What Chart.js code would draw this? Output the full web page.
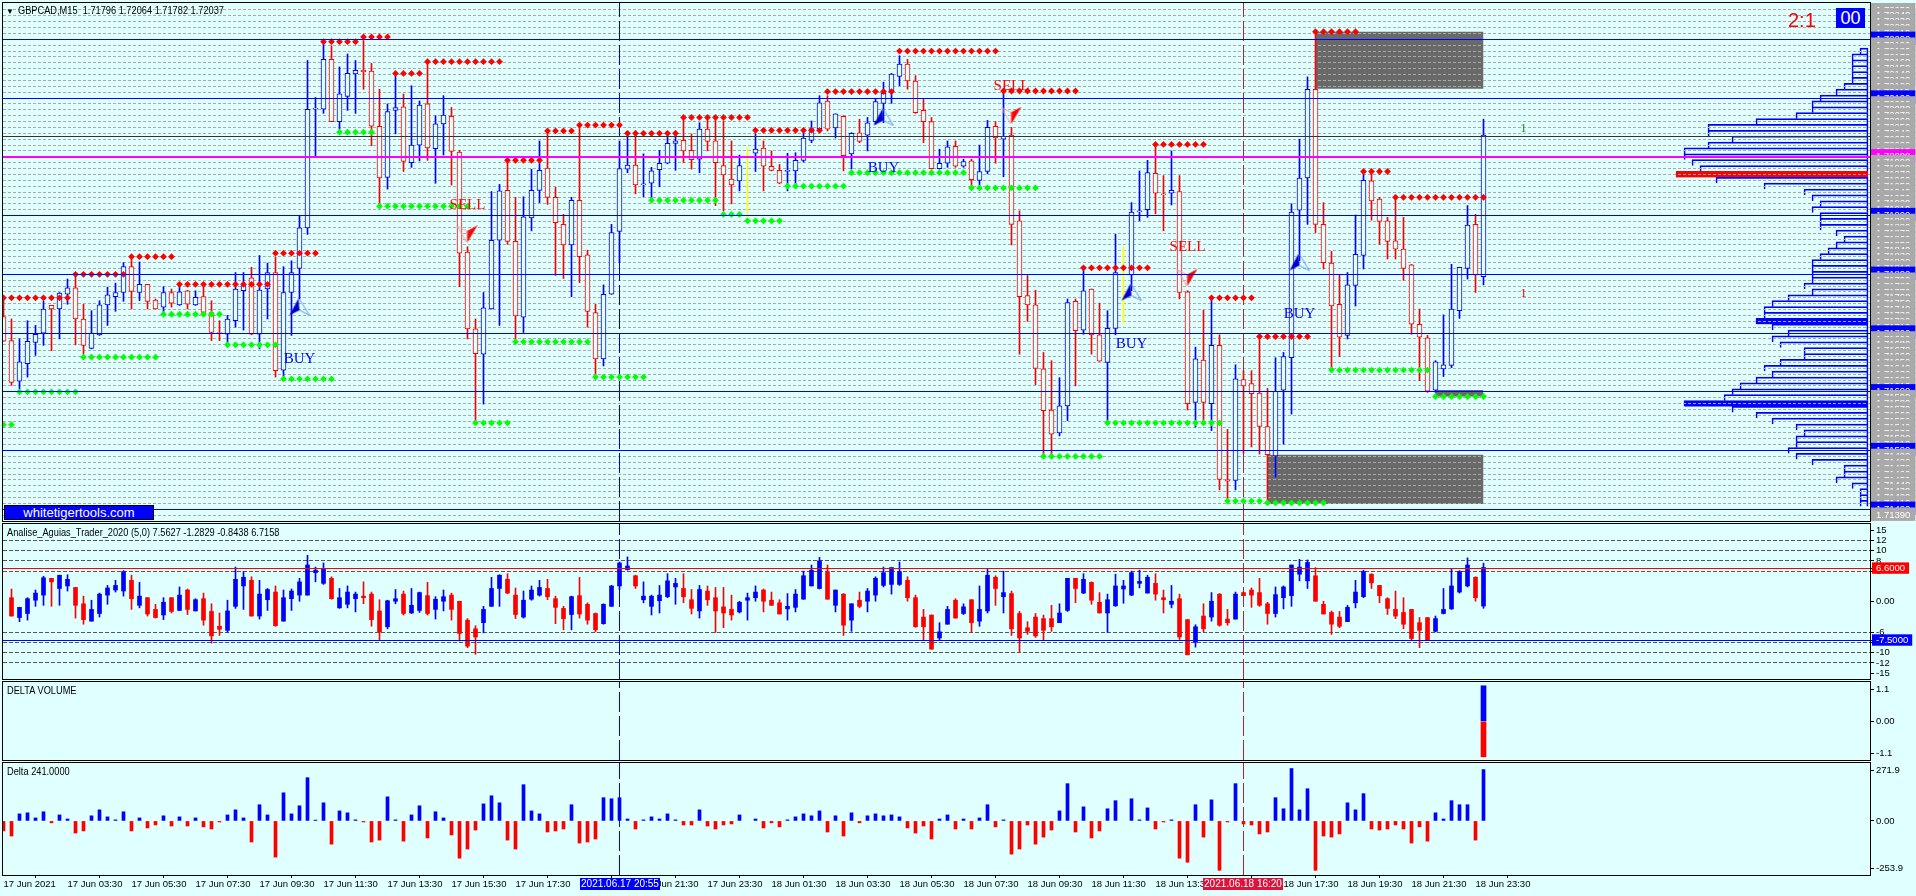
<!DOCTYPE html>
<html>
<head>
<meta charset="utf-8">
<title>GBPCAD,M15</title>
<script src="https://cdn.jsdelivr.net/npm/chart.js@4"></script>
<style>
html, body { margin: 0; padding: 0; background: #E0FFFF; overflow: hidden; }
body { width: 1916px; height: 896px; position: relative; font: 11px "Liberation Sans", sans-serif; }
canvas { position: absolute; left: 3px; }
.pane { position: absolute; left: 2px; width: 1869px; border: 1px solid #000; box-sizing: border-box; pointer-events: none; }
.txt { position: absolute; white-space: nowrap; color: #000; line-height: 13px; }
.squeezed { transform: scaleX(0.84); transform-origin: left center; }
.tag { position: absolute; top: 878px; height: 12px; width: 80px; text-align: center; color: #fff; font-size: 10px; line-height: 12px; white-space: nowrap; }
</style>
</head>
<body>
<canvas id="under" width="1913" height="518" style="top:3px"></canvas>
<canvas id="main" width="1913" height="518" style="top:3px"></canvas>
<canvas id="osc" width="1913" height="155" style="top:524px"></canvas>
<canvas id="dvol" width="1913" height="78" style="top:682px"></canvas>
<canvas id="delta" width="1913" height="133" style="top:763px"></canvas>

<div class="pane" style="top:2px;height:520px"></div>
<div class="pane" style="top:523px;height:157px"></div>
<div class="pane" style="top:681px;height:80px"></div>
<div class="pane" style="top:762px;height:114px"></div>

<div class="txt" style="left:6px;top:5px;font-size:8px">&#9660;</div>
<div class="txt squeezed" style="left:18px;top:4px">GBPCAD,M15&nbsp; 1.71796 1.72064 1.71782 1.72037</div>
<div class="txt squeezed" style="left:7px;top:526px">Analise_Aguias_Trader_2020 (5,0) 7.5627 -1.2829 -0.8438 6.7158</div>
<div class="txt squeezed" style="left:7px;top:684px">DELTA VOLUME</div>
<div class="txt squeezed" style="left:7px;top:765px">Delta 241.0000</div>
<div class="txt" style="left:4px;top:505px;width:148px;height:13px;background:#0000ff;border:1px solid #000;color:#fff;font:13px 'Liberation Sans',sans-serif;text-align:center;line-height:14px">whitetigertools.com</div>
<div class="txt" style="left:1788px;top:8px;color:#ff0000;font:20px/24px 'Liberation Sans',sans-serif">2:1</div>
<div class="txt" style="left:1836px;top:8px;width:29px;height:20px;background:#0000ff;color:#fff;font:18px/20px 'Liberation Sans',sans-serif;text-align:center">00</div>
<div class="tag" style="left:580px;background:#0000ff">2021.06.17 20:55</div>
<div class="tag" style="left:1203px;background:#DC143C">2021.06.18 16:20</div>

<script>
// GBPCAD M15, values
const opens = [1.71728,1.71687,1.71618,1.71648,1.71684,1.71700,1.71747,1.71741,1.71766,1.71777,
1.71724,1.71674,1.71697,1.71748,1.71762,1.71769,1.71813,1.71769,1.71783,1.71756,
1.71744,1.71769,1.71748,1.71772,1.71748,1.71762,1.71735,1.71701,1.71698,1.71721,
1.71772,1.71794,1.71698,1.71775,1.71803,1.71637,1.71769,1.71810,1.71879,1.72081,
1.72081,1.72166,1.72060,1.72103,1.72141,1.72147,1.72146,1.72052,1.71965,1.72079,
1.72085,1.71990,1.72020,1.72090,1.72014,1.72056,1.72069,1.72008,1.71838,1.71707,
1.71664,1.71741,1.71858,1.71943,1.71856,1.71727,1.71896,1.71943,1.71981,1.71931,
1.71885,1.71850,1.71926,1.71833,1.71735,1.71656,1.71766,1.71873,1.71979,1.71986,
1.71952,1.71955,1.71978,1.71989,1.72023,1.72028,1.72011,1.71996,1.72047,1.72027,
1.71985,1.71962,1.71959,null,1.72006,1.72015,1.71984,1.71977,1.71975,1.71976,
1.71994,1.72028,1.72048,1.72095,1.72049,1.72069,1.72005,1.72041,1.72037,1.72060,
1.72091,1.72112,1.72137,1.72158,1.72129,1.72079,1.72060,1.71980,1.71989,1.72018,
1.71984,1.71993,1.71960,1.71975,1.72052,1.72030,1.72037,1.71891,1.71764,1.71748,
1.71639,1.71569,1.71530,1.71576,1.71754,1.71705,1.71775,1.71697,1.71650,1.71708,
null,1.71799,1.71906,1.71910,1.71972,1.71937,1.71938,1.71941,1.71770,1.71582,
1.71654,1.71580,1.71679,1.71450,1.71449,1.71621,1.71614,1.71598,1.71541,1.71491,
1.71603,1.71658,1.71909,1.71964,1.72115,1.71885,1.71819,1.71749,1.71696,1.71781,
1.71832,1.71959,1.71928,1.71891,1.71857,1.71843,1.71816,1.71715,1.71692,1.71603,
1.71639,1.71645,1.71738,1.71810,1.71885,1.71796];
const closes = [1.71686,1.71616,1.71651,1.71686,1.71698,1.71741,1.71741,1.71768,1.71777,1.71724,
1.71679,1.71700,1.71748,1.71765,1.71769,1.71813,1.71771,1.71783,1.71754,1.71741,
1.71769,1.71751,1.71770,1.71749,1.71761,1.71735,1.71701,1.71699,1.71724,1.71775,
1.71781,1.71698,1.71773,1.71803,1.71636,1.71769,1.71803,1.71879,1.72081,1.72083,
1.72166,1.72060,1.72107,1.72142,1.72147,1.72145,1.72052,1.71964,1.72077,1.72084,
1.71992,1.72020,1.72088,1.72015,1.72056,1.72071,1.72009,1.71836,1.71707,1.71665,
1.71743,1.71858,1.71942,1.71856,1.71729,1.71898,1.71943,1.71977,1.71931,1.71888,
1.71850,1.71926,1.71830,1.71737,1.71656,1.71766,1.71871,1.71980,1.71986,1.71952,
1.71954,1.71976,1.71989,1.72023,1.72027,1.72010,1.71995,1.72047,1.72026,1.71990,
1.71969,1.71952,1.71985,null,1.72013,1.71984,1.71977,1.71955,1.71977,1.71994,
1.72032,1.72048,1.72092,1.72047,1.72073,1.72002,1.72040,1.72026,1.72058,1.72094,
1.72108,1.72141,1.72158,1.72129,1.72075,1.72060,1.71980,1.71989,1.72017,1.71984,
1.71992,1.71961,1.71975,1.72050,1.72032,1.72035,1.71885,1.71762,1.71748,1.71640,
1.71568,1.71528,1.71576,1.71752,1.71704,1.71772,1.71697,1.71652,1.71708,1.71803,
null,1.71906,1.71908,1.71973,1.71938,1.71935,1.71943,1.71769,1.71580,1.71656,
1.71582,1.71679,1.71451,1.71448,1.71622,1.71610,1.71597,1.71541,1.71493,1.71601,
1.71660,1.71906,1.71964,1.72115,1.71885,1.71820,1.71746,1.71693,1.71782,1.71834,
1.71960,1.71925,1.71890,1.71856,1.71843,1.71810,1.71715,1.71693,1.71601,1.71651,
1.71646,1.71741,1.71812,1.71884,1.71799,1.72037];
const highs = [1.71761,1.71724,1.71690,1.71721,1.71713,1.71754,1.71747,1.71769,1.71792,1.71798,
1.71749,1.71738,1.71755,1.71778,1.71785,1.71820,1.71826,1.71821,1.71783,1.71758,
1.71779,1.71775,1.71783,1.71773,1.71772,1.71783,1.71755,1.71721,1.71730,1.71803,
1.71803,1.71812,1.71832,1.71819,1.71829,1.71813,1.71823,1.71900,1.72164,1.72101,
1.72195,1.72189,1.72153,1.72175,1.72164,1.72198,1.72159,1.72115,1.72090,1.72138,
1.72107,1.72121,1.72095,1.72160,1.72070,1.72104,1.72084,1.72011,1.71847,1.71724,
1.71769,1.71941,1.71953,1.71993,1.71931,1.71932,1.71979,1.72027,1.72047,1.71948,
1.71902,1.71931,1.72053,1.71841,1.71749,1.71782,1.71885,1.72027,1.72041,1.72044,
1.72005,1.71982,1.72011,1.72036,1.72044,1.72066,1.72039,1.72058,1.72067,1.72067,
1.72061,1.72027,1.72003,1.72016,1.72039,1.72027,1.72010,1.71987,1.72006,1.72007,
1.72041,1.72061,1.72104,1.72104,1.72073,1.72070,1.72041,1.72064,1.72067,1.72098,
1.72127,1.72142,1.72172,1.72166,1.72138,1.72098,1.72067,1.72013,1.72027,1.72027,
1.71996,1.71996,1.72020,1.72062,1.72060,1.72115,1.72050,1.71908,1.71798,1.71773,
1.71667,1.71653,1.71624,1.71758,1.71758,1.71809,1.71775,1.71751,1.71738,1.71868,
1.71846,1.71922,1.71976,1.71994,1.72022,1.71968,1.72010,1.71968,1.71772,1.71676,
1.71739,1.71761,1.71697,1.71536,1.71646,1.71636,1.71636,1.71690,1.71606,1.71658,
1.71667,1.71920,1.72030,1.72136,1.72214,1.71922,1.71839,1.71800,1.71803,1.71901,
1.71971,1.71971,1.71931,1.71897,1.71931,1.71897,1.71817,1.71741,1.71696,1.71653,
1.71731,1.71817,1.71812,1.71917,1.71902,1.72064];
const lows = [1.71686,1.71611,1.71605,1.71625,1.71662,1.71679,1.71670,1.71690,1.71749,1.71680,
1.71664,1.71673,1.71696,1.71713,1.71737,1.71754,1.71741,1.71755,1.71741,1.71741,
1.71730,1.71744,1.71747,1.71741,1.71747,1.71732,1.71687,1.71687,1.71682,1.71710,
1.71705,1.71697,1.71673,1.71724,1.71625,1.71625,1.71696,1.71758,1.71868,1.72002,
1.72074,1.72060,1.72047,1.72079,1.72074,1.72115,1.72019,1.71917,1.71945,1.72039,
1.71975,1.71982,1.71993,1.71994,1.71955,1.72003,1.71952,1.71779,1.71690,1.71548,
1.71579,1.71741,1.71713,1.71851,1.71688,1.71701,1.71874,1.71922,1.71919,1.71798,
1.71793,1.71762,1.71786,1.71710,1.71628,1.71644,1.71766,1.71820,1.71973,1.71937,
1.71932,1.71926,1.71949,1.71988,1.71977,1.71990,1.71979,1.71973,1.72010,1.71917,
1.71908,1.71920,1.71942,1.71897,1.71975,1.71942,1.71976,1.71954,1.71942,1.71954,
1.71991,1.72024,1.72044,1.72044,1.72032,1.71976,1.71979,1.72024,1.72010,1.72056,
1.72058,1.72091,1.72121,1.72115,1.72074,1.72024,1.71979,1.71979,1.71982,1.71982,
1.71982,1.71951,1.71951,1.71971,1.71989,1.71966,1.71850,1.71664,1.71720,1.71612,
1.71493,1.71491,1.71525,1.71551,1.71610,1.71698,1.71664,1.71652,1.71551,1.71697,
1.71718,1.71772,1.71891,1.71897,1.71903,1.71874,1.71918,1.71758,1.71569,1.71540,
1.71546,1.71534,1.71433,1.71412,1.71433,1.71495,1.71506,1.71494,1.71412,1.71455,
1.71511,1.71562,1.71823,1.71885,1.71871,1.71809,1.71639,1.71660,1.71690,1.71746,
1.71809,1.71892,1.71851,1.71826,1.71826,1.71790,1.71698,1.71619,1.71599,1.71599,
1.71626,1.71641,1.71725,1.71792,1.71769,1.71782];

// support / resistance dots, as runs of bars at one price
const redFrom = [0,9,16,22,34,40,45,49,53,63,68,72,78,85,94,103,112,125,135,144,151,157,164,170,174];
const redTo = [8,15,21,33,39,44,48,52,62,67,71,77,84,93,102,111,124,134,143,150,156,163,169,173,185];
const redLevel = [1.7176,1.718,1.7183,1.71783,1.71836,1.72196,1.72204,1.72142,1.72162,1.71994,1.72044,1.72054,1.7204,1.72067,1.72045,1.72111,1.7218,1.72112,1.71811,1.72021,1.7176,1.71694,1.72213,1.71975,1.71931];
const greenFrom = [0,2,10,20,28,35,42,47,59,64,74,81,90,93,98,106,121,130,138,153,158,166,179];
const greenTo = [1,9,19,27,34,41,46,58,63,73,80,89,92,97,105,120,129,137,152,157,165,178,185];
const greenLevel = [1.71544,1.716,1.71659,1.71732,1.7168,1.71622,1.72042,1.71916,1.71547,1.71685,1.71625,1.71926,1.71902,1.71891,1.7195,1.71973,1.71947,1.7149,1.71547,1.71414,1.71411,1.71637,1.71592];

const levelPrices = [1.722,1.721,1.719,1.718,1.717,1.716,1.715,1.714];
const pivotPrice = 1.72;
const blackPrice = 1.72035;

// grey zones
const boxFrom = [164,179,158];
const boxTo = [185,185,185];
const boxTop = [1.72213,1.71603,1.71493];
const boxBottom = [1.72116,1.71592,1.71409];

// volume profile, rows from 1.7218 down to 1.7141
const profileTop = 1.7218;
const profileStep = 0.0001;
const profileCounts = [1,2,2,2,2,2,3,4,6,7,7,9,14,20,20,17,20,23,23,22,21,24,19,13,8,7,6,7,6,6,6,4,3,4,5,6,7,7,7,7,8,7,
10,12,13,13,14,12,10,12,11,8,8,11,13,12,14,16,17,18,23,17,14,12,9,8,9,9,10,9,7,3,3,4,2,1,1,1];
const profileRedRows = [21];
const profileBlueRows = [46,60];

const buyBars = [37,110,141,162];
const buyPrices = [1.71744,1.72067,1.71769,1.7182];
const sellBars = [58,126,148];
const sellPrices = [1.71868,1.7207,1.71794];
const wordBars = [58,126,148,37,110,141,162,190,190];
const wordPrices = [1.71918,1.72121,1.71846,1.71655,1.7198,1.71681,1.71733,1.72048,1.71767];
const words = ['SELL','SELL','SELL','BUY','BUY','BUY','BUY','1','1'];
const wordColors = ['#ff0000','#ff0000','#ff0000','#0000ff','#0000ff','#0000ff','#0000ff','#228b22','#ff0000'];

const blueLineBar = 77;
const redLineBar = 155;

// oscillator pane
const oscOpen = [null,0.8,-3.1,-2.3,0.3,1.3,4.6,2.6,3.1,2.8,
-0.4,-3.8,-2.3,1.3,2.3,2.1,4.2,-0.7,0.8,-1.5,
-2.6,0.8,-1.7,2.3,-1.8,0.6,-1.9,-4.8,-5.6,-0.9,
3.1,4.2,-2.8,0.4,1.9,-3.8,0.6,1.3,1.3,5.7,
3.6,4.6,-1.2,-0.5,0.6,1.1,1.5,-1.8,-4.9,0,
1.5,-2.2,-1.7,1.2,-1.5,0,1.3,0.1,-3.6,-5.3,
-4.1,-0.9,2.6,4.4,1.3,-3,0.5,1.3,2.6,0.6,
-1.3,-2.5,1.2,-0.5,-2.3,-4.3,-0.9,3.1,6.3,5.1,
0.4,-0.9,0.2,1,2.9,2.6,0.4,-1.8,2.1,0.8,
-1,-1.5,-2,0.3,0.8,2.3,0.3,-0.2,-1.4,-1.1,
0.5,3.1,2.6,5.9,-0.7,1.5,-3.6,0.3,0,1.3,
3.2,3.4,3.4,4.2,0.8,-3,-2.6,-7.1,-4.4,0.3,
-2.3,0.4,-3.8,-1.8,4.8,1,1.6,-2.3,-5.1,-3,
-3.3,-3.3,-4.1,-1.7,4.6,1.7,3.8,0,-2.2,-0.8,
2.5,1.3,3.6,1.7,3.6,0.8,-0.5,0.6,-3.5,-7.9,
-2.8,-3,1.5,-3.4,-3.4,1.8,2.3,1.8,-0.4,-2.3,
0.8,1.2,5.4,4.1,5.1,-0.5,-2.1,-3,-3.9,-0.2,
1,5.4,3.2,0.6,-1.5,-2.1,-1.5,-4.1,-3.1,-5.8,
-2.3,-1.4,1.9,3.1,4.8,-0.84];
const oscClose = [null,-2.8,-1.1,0.6,1.7,4.7,3.9,5.2,4.4,-0.7,
-3.5,-1.5,1.5,2.7,3.2,5.9,0.6,1.1,-2.4,-3.1,
0,-1.9,1.3,-1.5,0.4,-3.6,-6.7,-5.4,-1.8,4.4,
4.8,-2.8,1.5,2.4,-4.7,0.8,2.1,3.9,7.2,6.2,
6.5,0.6,0.8,1.9,1.5,0.8,-3.5,-5.9,0.2,0.6,
-2.3,-0.7,1.8,-2.3,0.5,1,-1.5,-6.2,-8.7,-6.9,
-1.5,2.6,5.2,1.7,-2.5,0.3,2.3,2.8,1,-1.1,
-3.3,1,-2.4,-3.6,-5.5,-0.5,3.1,7.6,7,3.1,
1.1,1.1,1.3,4.1,3.6,1,-1.3,2.4,0.4,-1.8,
-2.2,-2.6,-0.1,0.8,1.9,0.1,-0.7,-2.4,-0.9,1.5,
5.1,6.2,8,0.5,2.3,-4.6,-0.4,-0.9,2.1,4.6,
5.7,6.7,5.9,0.8,-4.9,-4.9,-9.3,-5.9,-1.5,-3.2,
-1,-4.1,-1.5,5.2,2.6,1.8,-5.3,-7.1,-5.8,-6.7,
-5.6,-4.9,-2.2,4.6,2.6,4.4,0.3,-2.2,0.4,3.1,
3.1,5.7,4,4.8,1.5,0.4,0.1,-6.9,-10.4,-4.9,
-5.3,0.1,-4.6,-4.1,1.5,1.2,1.3,-0.7,-2.3,1.4,
2.9,7.2,6.8,7.7,0.1,-2.4,-4.4,-4.8,-1.1,1.9,
5.9,3.7,1.2,-1.3,-2.8,-4.4,-7.2,-5.6,-7.5,-3.3,
-1.5,3.1,5.9,7.2,0.8,6.72];
const oscHigh = [null,2.5,-1.1,0.8,2.3,5,4.6,5.2,5.3,2.8,
1.1,0.3,1.7,3.2,4.2,6.1,5.2,3.8,0.8,-0.5,
0.8,0.8,2.9,2.5,0.6,1.7,-0.4,-2.2,0.3,6.8,
5.9,4.9,4.2,2.6,3.1,2.3,2.5,4.6,9.1,6.8,
7.6,4.9,2.6,3.1,1.9,3.9,1.9,0.4,0.3,2.4,
2.1,2.6,1.9,3.8,1,2.3,1.7,0.1,-3.3,-4.7,
-0.9,4.8,5.3,5.5,2.7,2.1,3.1,4.2,4.4,1.1,
-0.9,1.1,4.8,-0.2,-2.2,-0.4,3.2,7.8,8.8,5.2,
3.9,1.3,3.2,5.5,4.6,5.5,2.4,3.2,3.1,2.8,
2.8,1.3,0.1,1.7,3.1,2.5,1.9,0.4,1.6,2.4,
6,7.2,8.7,7.2,2.3,1.6,-0.4,1.9,2.6,4.9,
6.8,6.7,7.8,4.9,1.3,-1.5,-2.6,-4.1,-0.9,0.6,
-0.4,0.4,3.1,6.4,5.1,6,2.1,-1.9,-3.9,-2.3,
-2.6,-0.7,-0.4,4.6,4.6,5.5,3.9,1.8,1.5,5.4,
4.2,6,6.2,5.2,5.5,2.3,3.2,1.5,-3.5,-4.5,
-0.4,1.8,1.6,-1.5,1.9,1.9,2.7,4.6,0,2.9,
3.1,7.2,8.3,8.2,6.7,0.1,-1.8,-1.9,-0.7,4.2,
6.2,5.5,3.2,0.8,2.1,0.8,-1.5,-3.1,-3.1,-2.8,
2.6,6.5,6.1,8.6,4.9,7.56];
const oscLow = [null,-2.8,-3.9,-3.6,-0.9,-0.7,-0.9,-0.7,2.1,-3.2,
-4.4,-3.8,-3,-0.5,1.9,1.1,-1.5,-1.2,-2.8,-3.2,
-3.5,-2.2,-1.7,-2.5,-1.8,-4.6,-8.1,-6.6,-6,-1.3,
-1.5,-2.8,-3.4,-1.7,-4.8,-3.8,-1.7,0,1.3,3.9,
3.4,0.5,-1.3,-1.2,-2,-0.4,-4.8,-7.5,-5.3,-0.4,
-2.6,-2.3,-2.1,-2.6,-3.4,-1.8,-3.6,-7.7,-9,-10.3,
-6.1,-0.9,-0.9,1.6,-3.3,-3.2,0.3,1.1,0.4,-4.3,
-5.5,-5.5,-3.2,-4.4,-5.9,-4.4,-0.9,2.4,6.2,2.6,
-0.2,-2.6,-2.2,0.8,-0.5,-0.2,-2.4,-3.2,-0.7,-6,
-5.1,-3.6,-2.2,-3.6,0,-2,-0.7,-2.4,-3.6,-2,
0.5,3.1,2.5,0.5,-2,-6.6,-5.8,-1.2,-2,0.1,
2.9,1.5,3.2,0.1,-5,-7.5,-9.3,-7.5,-4.4,-3.2,
-2.5,-6,-4.8,-2.2,-0.7,-2.2,-6.6,-9.9,-6.4,-7,
-7.5,-5.8,-4.1,-1.9,-0.2,1.6,-0.5,-2.2,-6,-0.9,
-0.3,1.2,2.7,1.7,0.3,-2.2,-1.2,-7.4,-10.4,-8.9,
-5.9,-3.8,-4.8,-4.6,-3.4,1.2,-1.1,-0.9,-4.4,-3,
-1.4,-0.9,4.1,2.6,0.1,-2.4,-6.4,-5.1,-3.9,-1.2,
0.8,2.6,-0.2,-2.5,-3.3,-5.3,-7.5,-9,-7.5,-5.9,
-2.4,-1.5,1.7,2.9,0,-1.28];
const oscTicks = [14,12,10,8,6,0,-6,-8,-10,-12,-14,6.6,-7.5];
const oscTickLabels = ['15','12','10','8','6','0.00','-6','-8','-10','-12','-15','6.6000','-7.5000'];
const oscGuides = [12,10,8,6,-6,-8,-10,-12];
const oscUpper = 6.6;
const oscLower = -7.5;

// delta volume pane, only the last bar has data
const dvolBar = [185];
const dvolUp = [1.1];
const dvolDown = [-1.1];
const dvolTicks = [1,0,-1];
const dvolTickLabels = ['1.1','0.00','-1.1'];

// delta pane
const deltaValues = [-47,-71,33,38,14,43,-9,28,9,-57,
-47,24,52,19,5,43,-47,14,-33,-19,
24,-24,19,-24,14,-28,-38,-5,28,52,
14,-99,76,28,-170,132,33,71,203,4,
85,-109,47,38,5,-5,-99,-90,113,5,
-95,28,71,-80,43,14,-66,-175,-132,-43,
80,118,85,-90,-132,170,47,33,-52,-47,
-38,76,-104,-99,-85,109,104,109,9,-38,
5,19,9,33,5,-19,-19,52,-24,-38,
-19,-14,28,null,9,-33,-9,-28,5,19,
33,24,47,-52,24,-71,38,-9,24,33,
24,28,19,-33,-57,-24,-85,9,28,-38,
9,-38,14,76,-28,5,-156,-132,-19,-109,
-76,-43,47,175,-52,66,-80,-47,57,95,
null,104,5,61,-38,-5,5,-175,-194,76,
-76,99,-232,-5,175,-14,-19,-61,-52,109,
57,246,52,151,-232,-71,-76,-61,85,52,
128,-38,-43,-38,-19,-38,-104,-28,-95,38,
9,95,76,76,-90,241];
const deltaTicks = [239,0,-223];
const deltaTickLabels = ['271.9','0.00','-253.9'];

const timeTicks = [0,8,16,24,32,40,48,56,64,72,80,88,96,104,112,120,128,136,144,152,160,168,176,184];
const timeLabels = ['17 Jun 2021','17 Jun 03:30','17 Jun 05:30','17 Jun 07:30','17 Jun 09:30','17 Jun 11:30','17 Jun 13:30','17 Jun 15:30','17 Jun 17:30','17 Jun 19:30','17 Jun 21:30','17 Jun 23:30','18 Jun 01:30','18 Jun 03:30','18 Jun 05:30','18 Jun 07:30','18 Jun 09:30','18 Jun 11:30','18 Jun 13:30','18 Jun 15:30','18 Jun 17:30','18 Jun 19:30','18 Jun 21:30','18 Jun 23:30'];

const BLUE = '#0000ff', RED = '#ff0000', BG = '#E0FFFF';
const xMin = -0.0625, xMax = 233.4375;
const AXIS_FONT = { family: '"Liberation Sans", sans-serif', size: 9.5 };

Chart.defaults.font.family = AXIS_FONT.family;
Chart.defaults.font.size = 10;
Chart.defaults.animation = false;

function xAxis() {
    return { type: 'linear', min: xMin, max: xMax, offset: false, display: false, grid: { display: false } };
}
// no room for the labels inside the pane, they may hang over its edge
function noPadding(s) {
    s.paddingTop = s.paddingBottom = s.paddingLeft = s.paddingRight = 0;
}
function fixWidth(s) {
    s.width = 45;
    noPadding(s);
}
// horizontal levels as grid lines of an unlabelled axis: they snap to the pixel and lie over the candles
function levelAxis(values, min, max, colorOf, widthOf) {
    return {
        type: 'linear', axis: 'y', position: 'right', min: min, max: max,
        afterBuildTicks: s => { s.ticks = values.map(v => ({ value: v })); },
        afterFit: s => { s.width = 0; noPadding(s); },
        grid: { z: 1, drawTicks: false, tickLength: 0, color: c => colorOf(c.tick.value), lineWidth: c => widthOf(c.tick.value) },
        border: { display: false },
        ticks: { display: false }
    };
}
function vLine(x, lo, hi, color) {
    return { type: 'line', data: [{ x: x, y: lo }, { x: x, y: hi }], borderColor: color, borderWidth: 1, borderDash: [20, 4], pointRadius: 0 };
}
function dots(from, to, level, color) {
    let data = [];
    from.forEach((f, k) => {
        for (let i = f; i <= to[k]; i++) data.push({ x: i, y: level[k] });
    });
    return { type: 'line', showLine: false, data: data, pointStyle: 'rectRot', pointRadius: 3.4, backgroundColor: color, borderWidth: 0 };
}
function arrowImage(up) {
    let c = document.createElement('canvas');
    c.width = 22; c.height = 18;
    let g = c.getContext('2d');
    g.lineWidth = 1;
    if (up) {
        g.fillStyle = '#0000cd';
        g.beginPath(); g.moveTo(10, 0); g.lineTo(1, 17); g.lineTo(11, 12); g.closePath(); g.fill();
        g.strokeStyle = '#6495ed';
        g.beginPath(); g.moveTo(11, 1); g.lineTo(21, 17); g.lineTo(11, 12); g.stroke();
    } else {
        g.fillStyle = '#ff0000';
        g.beginPath(); g.moveTo(21, 0); g.lineTo(11, 17); g.lineTo(10, 6); g.closePath(); g.fill();
        g.strokeStyle = '#f4a0a0';
        g.beginPath(); g.moveTo(1, 1); g.lineTo(10, 17); g.lineTo(11, 6); g.closePath(); g.stroke();
    }
    return c;
}
function arrows(bars, prices, up) {
    return { type: 'line', showLine: false, data: bars.map((b, k) => ({ x: b, y: prices[k] })), pointStyle: arrowImage(up), pointRadius: 9 };
}

// texts on the price pane
const wordPlugin = {
    id: 'words',
    afterDatasetsDraw(chart) {
        let ctx = chart.ctx;
        ctx.save();
        ctx.textAlign = 'center';
        ctx.textBaseline = 'middle';
        words.forEach((w, k) => {
            ctx.font = (w === '1' ? '13px' : '15px') + ' "Liberation Serif", serif';
            ctx.fillStyle = wordColors[k];
            ctx.fillText(w, chart.scales.x.getPixelForValue(wordBars[k]), chart.scales.y.getPixelForValue(wordPrices[k]));
        });
        ctx.restore();
    }
};

function makeChart(id, datasets, yAxis, xOpts, plugins, extraScales) {
    return new Chart(document.getElementById(id), {
        type: 'bar',
        data: { datasets: datasets },
        options: {
            responsive: false,
            devicePixelRatio: 1,
            layout: { padding: 0, autoPadding: false },
            plugins: { legend: { display: false }, tooltip: { enabled: false }, title: { display: false } },
            scales: Object.assign({ x: xOpts || xAxis(), y: yAxis }, extraScales || {})
        },
        plugins: plugins || []
    });
}

const PRICE_MAX = 1.722618, PRICE_MIN = 1.713801;
const isBlueLevel = v => Math.abs(v * 1000 - Math.round(v * 1000)) < 1e-6;
const isPivot = v => Math.abs(v - pivotPrice) < 1e-6;

// grey zones and the profile lie under the price pane
let underSets = [{
    type: 'bar',
    indexAxis: 'y',
    xAxisID: 'xp',
    yAxisID: 'y',
    grouped: false,
    barThickness: 6,
    borderWidth: { top: 1, left: 1, right: 1, bottom: 0 },
    borderSkipped: false,
    borderColor: profileCounts.map((c, k) => profileRedRows.includes(k) ? RED : BLUE),
    backgroundColor: profileCounts.map((c, k) => profileRedRows.includes(k) ? RED : profileBlueRows.includes(k) ? BLUE : 'transparent'),
    data: profileCounts.map((c, k) => ({ x: c, y: profileTop - k * profileStep }))
}];
boxFrom.forEach((b, k) => {
    underSets.push({
        type: 'line',
        xAxisID: 'x',
        yAxisID: 'y',
        data: [{ x: b, y: boxTop[k] }, { x: boxTo[k], y: boxTop[k] }],
        borderWidth: 0,
        pointRadius: 0,
        backgroundColor: '#696969',
        fill: { value: boxBottom[k] }
    });
});
new Chart(document.getElementById('under'), {
    type: 'bar',
    data: { datasets: underSets },
    options: {
        responsive: false,
        devicePixelRatio: 1,
        layout: { padding: 0, autoPadding: false },
        plugins: { legend: { display: false }, tooltip: { enabled: false } },
        scales: {
            x: xAxis(),
            xp: { type: 'linear', reverse: true, min: -0.375, max: 233.125, offset: false, display: false, grid: { display: false } },
            y: {
                position: 'right', min: PRICE_MIN, max: PRICE_MAX, offset: false, afterFit: fixWidth,
                grid: { display: false }, border: { display: false }, ticks: { display: false }
            }
        }
    }
});

// price pane, first dataset is drawn on top
let mainSets = [
    arrows(buyBars, buyPrices, true),
    arrows(sellBars, sellPrices, false),
    dots(redFrom, redTo, redLevel, RED),
    dots(greenFrom, greenTo, greenLevel, '#00ff00')
];
mainSets.push({
    grouped: false, barThickness: 5, borderWidth: 1, borderSkipped: false,
    backgroundColor: BG,
    borderColor: closes.map((c, i) => c >= opens[i] ? BLUE : RED),
    data: opens.map((o, i) => ({ x: i, y: o === null ? null : [o, closes[i]] }))
});
mainSets.push({
    grouped: false, barThickness: 1, borderWidth: 0,
    backgroundColor: closes.map((c, i) => c === null ? '#ffff00' : c >= opens[i] ? BLUE : RED),
    data: lows.map((l, i) => ({ x: i, y: [l, highs[i]] }))
});
mainSets.push(vLine(blueLineBar, PRICE_MIN, PRICE_MAX, BLUE));
mainSets.push(vLine(redLineBar, PRICE_MIN, PRICE_MAX, '#b22234'));

makeChart('main', mainSets, {
    position: 'right', min: PRICE_MIN, max: PRICE_MAX, afterFit: fixWidth,
    afterBuildTicks: s => { s.ticks = s.ticks.filter(t => t.value < 1.72255).reverse(); },
    grid: { color: '#a9a9a9', drawTicks: false, tickLength: 0 },
    border: { display: false, dash: [3, 2] },
    ticks: {
        stepSize: profileStep, includeBounds: false, autoSkip: false, padding: 5,
        font: AXIS_FONT, color: '#ffffff',
        callback: v => v.toFixed(5),
        showLabelBackdrop: true,
        backdropPadding: { left: 5, right: 5, top: 2, bottom: 0 },
        backdropColor: c => isPivot(c.tick.value) ? '#ff00ff' : isBlueLevel(c.tick.value) ? BLUE : '#a9a9a9'
    }
}, null, [wordPlugin], {
    levels: levelAxis(levelPrices.concat([blackPrice, pivotPrice]), PRICE_MIN, PRICE_MAX,
        v => v === pivotPrice ? '#ff00ff' : v === blackPrice ? '#333333' : BLUE,
        v => v === pivotPrice ? 2 : 1)
});

// oscillator pane
const OSC_MAX = 15.24, OSC_MIN = -15.14;
makeChart('osc', [
    {
        grouped: false, barThickness: 4, borderWidth: 0,
        backgroundColor: oscClose.map((c, i) => c >= oscOpen[i] ? BLUE : RED),
        data: oscOpen.map((o, i) => ({ x: i, y: o === null ? null : [o, oscClose[i]] }))
    },
    {
        grouped: false, barThickness: 1, borderWidth: 0,
        backgroundColor: oscClose.map((c, i) => c >= oscOpen[i] ? BLUE : RED),
        data: oscLow.map((l, i) => ({ x: i, y: l === null ? null : [l, oscHigh[i]] }))
    },
    vLine(blueLineBar, OSC_MIN, OSC_MAX, BLUE),
    vLine(redLineBar, OSC_MIN, OSC_MAX, '#b22234')
], {
    position: 'right', min: OSC_MIN, max: OSC_MAX, afterFit: fixWidth,
    afterBuildTicks: s => { s.ticks = oscTicks.map(v => ({ value: v })); },
    grid: {
        color: c => oscGuides.includes(c.tick.value) ? '#555555' : 'transparent',
        tickColor: '#000', tickLength: 3
    },
    border: { display: false, dash: [4, 2] },
    ticks: {
        autoSkip: false, padding: 2, font: AXIS_FONT, color: c => c.tick.value === oscUpper || c.tick.value === oscLower ? '#ffffff' : '#000',
        callback: (v, i) => oscTickLabels[i],
        showLabelBackdrop: c => c.tick.value === oscUpper || c.tick.value === oscLower,
        backdropPadding: { left: 4, right: 4, top: 0, bottom: 0 },
        backdropColor: c => c.tick.value === oscUpper ? RED : BLUE
    }
}, null, [], {
    levels: levelAxis([oscUpper, oscLower], OSC_MIN, OSC_MAX, v => v === oscUpper ? RED : BLUE, () => 1)
});

// delta volume pane
const DV_MAX = 1.217, DV_MIN = -1.198;
makeChart('dvol', [
    {
        grouped: false, barThickness: 5, borderWidth: 0, backgroundColor: BLUE,
        data: dvolBar.map((b, k) => ({ x: b, y: dvolUp[k] }))
    },
    {
        grouped: false, barThickness: 5, borderWidth: 0, backgroundColor: RED,
        data: dvolBar.map((b, k) => ({ x: b, y: dvolDown[k] }))
    },
    vLine(blueLineBar, DV_MIN, DV_MAX, BLUE),
    vLine(redLineBar, DV_MIN, DV_MAX, '#b22234')
], {
    position: 'right', min: DV_MIN, max: DV_MAX, afterFit: fixWidth,
    afterBuildTicks: s => { s.ticks = dvolTicks.map(v => ({ value: v })); },
    grid: { drawOnChartArea: false, tickColor: '#000', tickLength: 3 },
    border: { display: false },
    ticks: { autoSkip: false, padding: 2, font: AXIS_FONT, color: '#000', callback: (v, i) => dvolTickLabels[i] }
});

// delta pane, carries the time axis
const D_MAX = 271.9, D_MIN = -253.9;
makeChart('delta', [
    {
        grouped: false, barThickness: 3, borderWidth: 0,
        backgroundColor: deltaValues.map(v => v >= 0 ? BLUE : RED),
        data: deltaValues.map((v, i) => ({ x: i, y: v }))
    },
    vLine(blueLineBar, D_MIN, D_MAX, BLUE),
    vLine(redLineBar, D_MIN, D_MAX, '#b22234')
], {
    position: 'right', min: D_MIN, max: D_MAX, afterFit: fixWidth,
    afterBuildTicks: s => { s.ticks = deltaTicks.map(v => ({ value: v })); },
    grid: { drawOnChartArea: false, tickColor: '#000', tickLength: 3 },
    border: { display: false },
    ticks: { autoSkip: false, padding: 2, font: AXIS_FONT, color: '#000', callback: (v, i) => deltaTickLabels[i] }
}, {
    type: 'linear', min: xMin, max: xMax, offset: false, position: 'bottom',
    afterBuildTicks: s => { s.ticks = timeTicks.map(v => ({ value: v })); },
    afterFit: s => { s.height = 21; noPadding(s); },
    grid: { drawOnChartArea: false, tickColor: '#000', tickLength: 3 },
    border: { display: false },
    ticks: {
        autoSkip: false, maxRotation: 0, align: 'start', padding: 1, font: AXIS_FONT, color: '#000',
        callback: (v, i) => timeLabels[i]
    }
});
</script>
</body>
</html>
